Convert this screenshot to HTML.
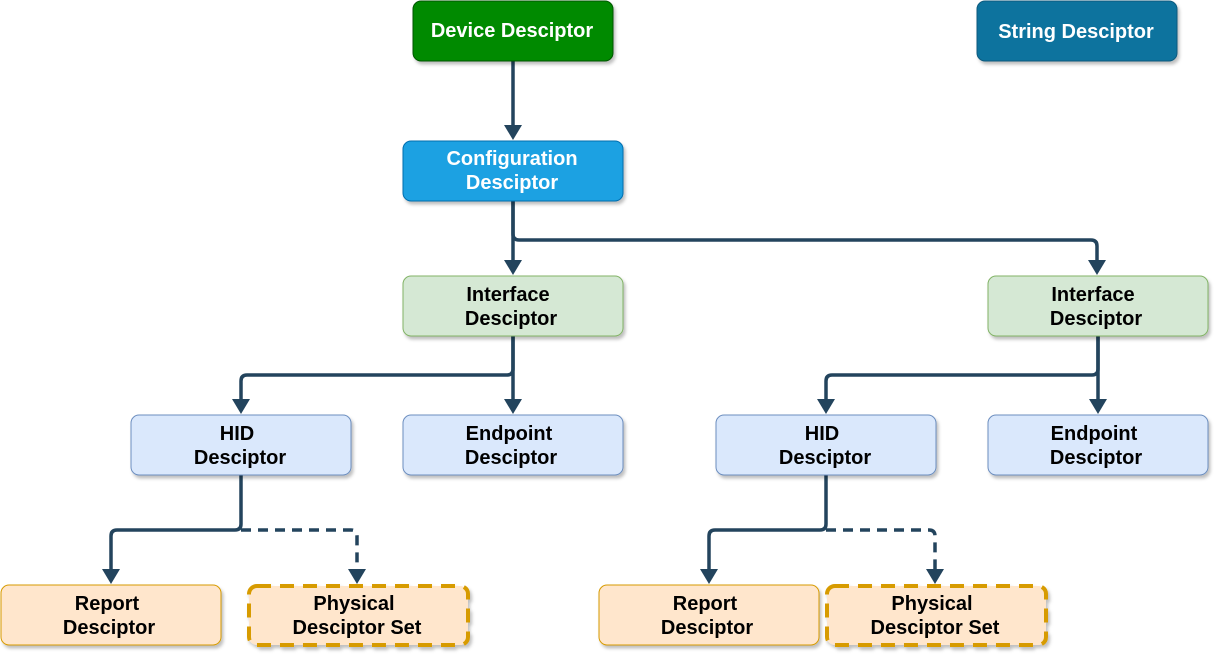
<!DOCTYPE html>
<html><head><style>body{margin:0;background:#fff}</style></head><body>
<svg width="1222" height="663" xmlns="http://www.w3.org/2000/svg" font-family="Liberation Sans, Arial, sans-serif" font-weight="bold" font-size="20">
<defs>
<filter id="s"><feDropShadow dx="2" dy="3" stdDeviation="1.5" flood-opacity="0.25"/></filter>
</defs>
<g fill="none" stroke="#23445d" stroke-width="3.5" stroke-linejoin="round">
<path d="M513,61 V128"/>
<path d="M513,201 V263"/>
<path d="M513,201 V234 Q513,240 519,240 H1091 Q1097,240 1097,246 V263"/>
<path d="M513,336 V402"/>
<path d="M513,336 V369 Q513,375 507,375 H247 Q241,375 241,381 V402"/>
<path d="M1098,336 V402"/>
<path d="M1098,336 V369 Q1098,375 1092,375 H832 Q826,375 826,381 V402"/>
<path d="M241,475 V524 Q241,530 235,530 H117 Q111,530 111,536 V572"/>
<path d="M241,530 H351 Q357,530 357,536 V572" stroke-dasharray="10,7"/>
<path d="M826,475 V524 Q826,530 820,530 H715 Q709,530 709,536 V572"/>
<path d="M826,530 H929 Q935,530 935,536 V572" stroke-dasharray="10,7"/>
</g>
<g fill="#23445d">
<path d="M504,125 h18 l-9,15z"/>
<path d="M504,260 h18 l-9,15z"/>
<path d="M1088,260 h18 l-9,15z"/>
<path d="M504,399 h18 l-9,15z"/>
<path d="M232,399 h18 l-9,15z"/>
<path d="M1089,399 h18 l-9,15z"/>
<path d="M817,399 h18 l-9,15z"/>
<path d="M102,569 h18 l-9,15z"/>
<path d="M348,569 h18 l-9,15z"/>
<path d="M700,569 h18 l-9,15z"/>
<path d="M926,569 h18 l-9,15z"/>
</g>
<g filter="url(#s)">
<rect x="413" y="1" width="200" height="60" rx="8" fill="#008a00" stroke="#005700"/>
<rect x="977" y="1" width="200" height="60" rx="8" fill="#10739e" stroke="#0a5a7e"/>
<rect x="403" y="141" width="220" height="60" rx="8" fill="#1ba1e2" stroke="#006eaf"/>
<rect x="403" y="276" width="220" height="60" rx="8" fill="#d5e8d4" stroke="#82b366"/>
<rect x="988" y="276" width="220" height="60" rx="8" fill="#d5e8d4" stroke="#82b366"/>
<rect x="131" y="415" width="220" height="60" rx="8" fill="#dae8fc" stroke="#6c8ebf"/>
<rect x="403" y="415" width="220" height="60" rx="8" fill="#dae8fc" stroke="#6c8ebf"/>
<rect x="716" y="415" width="220" height="60" rx="8" fill="#dae8fc" stroke="#6c8ebf"/>
<rect x="988" y="415" width="220" height="60" rx="8" fill="#dae8fc" stroke="#6c8ebf"/>
<rect x="1" y="585" width="220" height="60" rx="8" fill="#ffe6cc" stroke="#d79b00"/>
<rect x="599" y="585" width="220" height="60" rx="8" fill="#ffe6cc" stroke="#d79b00"/>
<rect x="249" y="586" width="219" height="59" rx="8" fill="#ffe6cc" stroke="#d79b00" stroke-width="4" stroke-dasharray="14,9"/>
<rect x="827" y="586" width="219" height="59" rx="8" fill="#ffe6cc" stroke="#d79b00" stroke-width="4" stroke-dasharray="14,9"/>
</g>
<g text-anchor="middle" fill="#fff">
<text x="512" y="37">Device Desciptor</text>
<text x="1076" y="38">String Desciptor</text>
<text x="512" y="165">Configuration</text><text x="512" y="189">Desciptor</text>
</g>
<g text-anchor="middle" fill="#000">
<text x="508" y="301">Interface</text><text x="511" y="325">Desciptor</text>
<text x="1093" y="301">Interface</text><text x="1096" y="325">Desciptor</text>
<text x="237" y="440">HID</text><text x="240" y="464">Desciptor</text>
<text x="509" y="440">Endpoint</text><text x="511" y="464">Desciptor</text>
<text x="822" y="440">HID</text><text x="825" y="464">Desciptor</text>
<text x="1094" y="440">Endpoint</text><text x="1096" y="464">Desciptor</text>
<text x="107" y="610">Report</text><text x="109" y="634">Desciptor</text>
<text x="354" y="610">Physical</text><text x="357" y="634">Desciptor Set</text>
<text x="705" y="610">Report</text><text x="707" y="634">Desciptor</text>
<text x="932" y="610">Physical</text><text x="935" y="634">Desciptor Set</text>
</g>
</svg>
</body></html>
